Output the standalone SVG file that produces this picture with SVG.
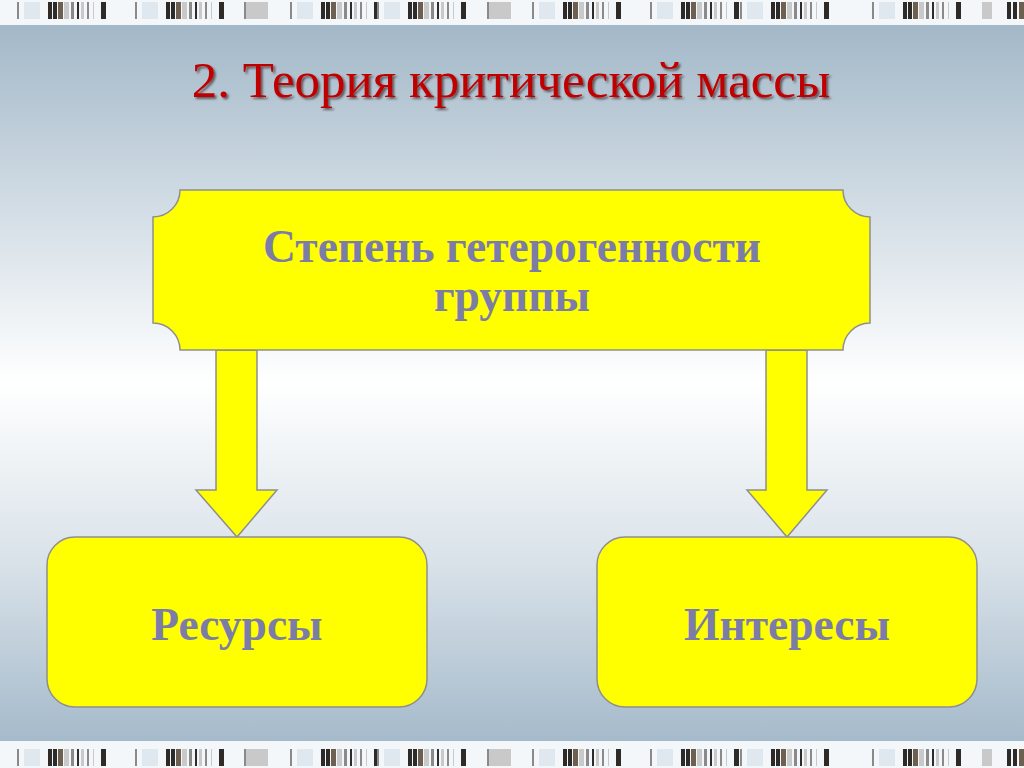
<svg xmlns="http://www.w3.org/2000/svg" xmlns:xlink="http://www.w3.org/1999/xlink" width="1024" height="768" viewBox="0 0 1024 768">
  <style>
    .node { fill: #ffff00; stroke: #8f8f8f; stroke-width: 1.5; }
    .arrow { fill: #ffff00; stroke: #8f8f8f; stroke-width: 1.5; stroke-linejoin: miter; }
    .label { font-family: "Liberation Serif", "Times New Roman", serif; font-weight: bold; font-size: 45.5px; fill: #7c7ca8; text-anchor: middle; }
    .title { font-family: "Liberation Serif", "Times New Roman", serif; font-size: 51px; fill: #c00000; text-anchor: middle; }
    .dk { fill: #2e2a28; }
    .br { fill: #6e6050; }
    .gy { fill: #8a8a8a; }
    .lg { fill: #c9c9c9; }
    .lb { fill: #dfe8ef; }
  </style>
  <defs>
    <linearGradient id="bg" x1="0" y1="0" x2="0" y2="1">
      <stop offset="0" stop-color="#a3b8c8"/>
      <stop offset="0.2" stop-color="#c8d5df"/>
      <stop offset="0.5" stop-color="#ffffff"/>
      <stop offset="0.75" stop-color="#d9e2e9"/>
      <stop offset="1" stop-color="#a5bacb"/>
    </linearGradient>
    <filter id="shadow" x="-5%" y="-20%" width="110%" height="150%">
      <feDropShadow dx="2" dy="2" stdDeviation="1" flood-color="#3a2a2a" flood-opacity="0.7"/>
    </filter>
    <g id="motif">
      <rect x="0" y="0" width="2" height="17" class="gy"/>
      <rect x="7" y="0" width="16" height="17" class="lb"/>
      <rect x="31" y="0" width="4" height="17" class="dk"/>
      <rect x="36" y="0" width="4" height="17" class="dk"/>
      <rect x="41" y="0" width="5" height="17" class="br"/>
      <rect x="47" y="0" width="5" height="17" class="lg"/>
      <rect x="54" y="0" width="3" height="17" class="gy"/>
      <rect x="60" y="0" width="2" height="17" class="dk"/>
      <rect x="64" y="0" width="3" height="17" class="lg"/>
      <rect x="70" y="0" width="2" height="17" class="gy"/>
      <rect x="76" y="0" width="1" height="17" class="lg"/>
      <rect x="84" y="0" width="5" height="17" class="dk"/>
    </g>
    <g id="barcode">
      <rect x="0" y="0" width="1024" height="17" fill="#f4f7fa"/>
      <use xlink:href="#motif" x="17"/>
      <use xlink:href="#motif" x="135"/>
      <rect x="244" y="0" width="24" height="17" class="lg"/>
      <rect x="244" y="0" width="2" height="17" class="gy"/>
      <use xlink:href="#motif" x="290"/>
      <use xlink:href="#motif" x="377"/>
      <rect x="487" y="0" width="24" height="17" class="lg"/>
      <rect x="487" y="0" width="2" height="17" class="gy"/>
      <use xlink:href="#motif" x="532"/>
      <use xlink:href="#motif" x="650"/>
      <use xlink:href="#motif" x="740"/>
      <use xlink:href="#motif" x="872"/>
      <rect x="982" y="0" width="10" height="17" class="lg"/>
      <rect x="1007" y="0" width="4" height="17" class="dk"/>
      <rect x="1013" y="0" width="4" height="17" class="dk"/>
      <rect x="1019" y="0" width="5" height="17" class="br"/>
    </g>
  </defs>

  <rect x="0" y="0" width="1024" height="768" fill="#f4f7fa"/>
  <use xlink:href="#barcode" x="0" y="2"/>
  <use xlink:href="#barcode" x="0" y="749"/>
  <rect x="0" y="25" width="1024" height="716" fill="url(#bg)"/>

  <text class="title" x="511" y="97" filter="url(#shadow)">2. Теория критической массы</text>

  <g id="connectors">
    <polygon class="arrow" points="216,350 257,350 257,490 277,490 237,537 196,490 216,490"/>
    <polygon class="arrow" points="766,350 807,350 807,490 827,490 787,537 747,490 766,490"/>
  </g>

  <g id="node-top">
    <path class="node" d="M180,190 H843 A27,27 0 0 0 870,217 V323 A27,27 0 0 0 843,350 H180 A27,27 0 0 0 153,323 V217 A27,27 0 0 0 180,190 Z"/>
    <text class="label" x="512" y="262">Степень гетерогенности</text>
    <text class="label" x="512" y="311">группы</text>
  </g>

  <g id="node-resources">
    <rect class="node" x="47" y="537" width="380" height="170" rx="28" ry="28"/>
    <text class="label" x="237" y="640">Ресурсы</text>
  </g>

  <g id="node-interests">
    <rect class="node" x="597" y="537" width="380" height="170" rx="28" ry="28"/>
    <text class="label" x="787" y="640">Интересы</text>
  </g>
</svg>
